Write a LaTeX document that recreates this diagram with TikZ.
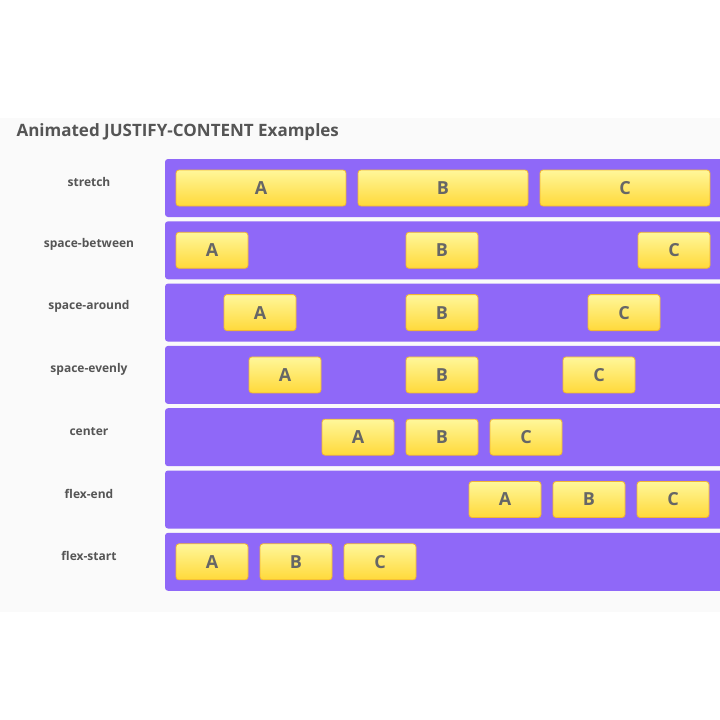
\documentclass[tikz,border=0pt]{standalone}
\usepackage{fontspec}
\setmainfont{Open Sans}
\definecolor{rowpurple}{HTML}{8F68F8}
\definecolor{panelgray}{HTML}{FAFAFA}
\definecolor{txtgray}{HTML}{555555}
\definecolor{boxtop}{HTML}{FFF79A}
\definecolor{boxbot}{HTML}{FFD93A}
\definecolor{boxedge}{HTML}{F2B632}
\tikzset{
  rowbar/.style={fill=rowpurple, rounded corners=3pt},
  item/.style={draw=boxedge, line width=0.8pt, rounded corners=3pt,
    top color=boxtop, bottom color=boxbot, minimum height=36pt,
    inner sep=0pt, font=\bfseries\fontsize{18}{18}\selectfont, text=txtgray!90},
  rowlabel/.style={font=\bfseries\fontsize{12}{12}\selectfont, text=txtgray}
}
\begin{document}
\begin{tikzpicture}[x=1pt,y=-1pt]
\useasboundingbox (0,0) rectangle (720,720);
\fill[white] (0,0) rectangle (720,720);
\fill[panelgray] (0,118) rectangle (720,612);
\node[anchor=west, font=\bfseries\fontsize{17}{17}\selectfont, text=txtgray] (title) at (13,132) {Animated JUSTIFY-CONTENT Examples};
% rows: index / label / width / centres of A, B, C
\foreach \i/\lab/\w/\xa/\xb/\xc in {
  0/stretch/170/261/443/625,
  1/space-between/72/212/442/674,
  2/space-around/72/260/442/624,
  3/space-evenly/72/285/442/599,
  4/center/72/358/442/526,
  5/flex-end/72/505/589/673,
  6/flex-start/72/212/296/380}{
  \pgfmathsetmacro{\top}{159+62.3*\i}
  \fill[rowbar] (165,\top) rectangle (724,\top+58);
  \node[rowlabel] (lab\i) at (89,\top+23) {\lab};
  \node[item, minimum width=\w pt] (a\i) at (\xa,\top+29) {A};
  \node[item, minimum width=\w pt] (b\i) at (\xb,\top+29) {B};
  \node[item, minimum width=\w pt] (c\i) at (\xc,\top+29) {C};
}
\end{tikzpicture}
\end{document}
